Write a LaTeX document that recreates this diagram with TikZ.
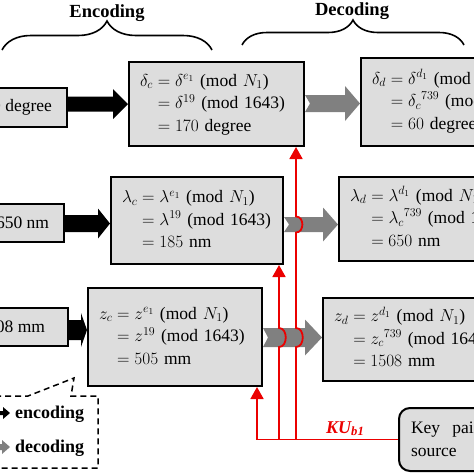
\documentclass[tikz,border=0pt]{standalone}
\usepackage{fontspec}
\setmainfont{Liberation Serif}
\usetikzlibrary{calc,arrows.meta,decorations.pathreplacing}
\definecolor{boxgray}{RGB}{221,221,221}
\definecolor{arrgray}{RGB}{128,128,128}
\definecolor{kured}{RGB}{235,0,0}
\newcommand\bodyfont{\fontsize{17.5}{22.5}\selectfont}
% #1 colour, #2 from node, #3 to node, #4 dy, #5 stem half, #6 head half, #7 head length, #8 notch
\newcommand\bigarr[8]{%
  \fill[#1] let \p1=($(#2.east)+(0,#4)$), \p2=(#3.west) in
    (\x1,\y1+#5) -- (\x2-#7,\y1+#5) -- (\x2-#7,\y1+#6) -- (\x2,\y1)
    -- (\x2-#7,\y1-#6) -- (\x2-#7,\y1-#5) -- (\x1,\y1-#5) -- (\x1+#8,\y1) -- cycle;}
\begin{document}
\begin{tikzpicture}[x=1pt,y=-1pt,
  box/.style={draw, line width=2pt, fill=boxgray, inner xsep=11pt, inner ysep=0pt, align=left, font=\bodyfont},
  leftbox/.style={draw, line width=2pt, fill=boxgray, anchor=east, inner ysep=0pt, font=\bodyfont},
  redline/.style={draw=kured, line width=1.8pt},
  redtip/.style={-{Triangle[length=12pt,width=13pt]}},
  heading/.style={font=\fontsize{18.5}{22}\selectfont\bfseries, inner sep=0pt, anchor=base},
  legendline/.style={dash pattern=on 6pt off 4pt, line width=1.5pt},
  legendtext/.style={font=\fontsize{18}{20}\selectfont\bfseries, anchor=base west, inner sep=0pt},
  brc/.style={decorate, decoration={brace, amplitude=#1}, line width=1.6pt}]

\useasboundingbox (0,0) rectangle (474,474);
\clip (0,0) rectangle (474,474);

% braces and headings
\draw[brc=29pt] (2,50) -- (212,50);
\draw[brc=25pt] (242,45) -- (464,45);
\node[heading] (enc) at (107,17) {Encoding};
\node[heading] (dec) at (352,15) {Decoding};

% row 1
\node[leftbox, inner xsep=15pt, minimum height=39pt] (L1) at (68,107.5) {60 degree};
\node[box, text width=153pt, minimum height=84pt] (dc) at (216.5,104) {%
  \begin{tabular}{@{}r@{}l@{}}
  $\delta_c$ & ${}=\delta^{e_1}$ (mod $N_1$)\\
   & ${}=\delta^{19}$ (mod 1643)\\
   & ${}=170$ degree
  \end{tabular}};
\node[box, text width=156pt, minimum height=88pt] (dd) at (450,102) {%
  \begin{tabular}{@{}r@{}l@{}}
  $\delta_d$ & ${}=\delta^{d_1}$ (mod $N_1$)\\
   & ${}={\delta_c}^{739}$ (mod 1643)\\
   & ${}=60$ degree
  \end{tabular}};

% row 2
\node[leftbox, inner xsep=15pt, minimum height=38pt] (L2) at (65,223) {650 nm};
\node[box, text width=150pt, minimum height=87pt] (lc) at (197,220.5) {%
  \begin{tabular}{@{}r@{}l@{}}
  $\lambda_c$ & ${}=\lambda^{e_1}$ (mod $N_1$)\\
   & ${}=\lambda^{19}$ (mod 1643)\\
   & ${}=185$ nm
  \end{tabular}};
\node[box, text width=156pt, minimum height=84pt] (ld) at (428,219) {%
  \begin{tabular}{@{}r@{}l@{}}
  $\lambda_d$ & ${}=\lambda^{d_1}$ (mod $N_1$)\\
   & ${}={\lambda_c}^{739}$ (mod 1643)\\
   & ${}=650$ nm
  \end{tabular}};

% row 3
\node[leftbox, inner xsep=23pt, minimum height=38pt] (L3) at (69,327) {1508 mm};
\node[box, text width=152pt, minimum height=98pt] (zc) at (175,337) {%
  \begin{tabular}{@{}r@{}l@{}}
  $z_c$ & ${}=z^{e_1}$ (mod $N_1$)\\
   & ${}=z^{19}$ (mod 1643)\\
   & ${}=505$ mm
  \end{tabular}};
\node[box, text width=156pt, minimum height=83pt] (zd) at (412,339.5) {%
  \begin{tabular}{@{}r@{}l@{}}
  $z_d$ & ${}=z^{d_1}$ (mod $N_1$)\\
   & ${}={z_c}^{739}$ (mod 1643)\\
   & ${}=1508$ mm
  \end{tabular}};

% key pair source
\node[box, rounded corners=11pt, inner xsep=12pt, text width=96pt, minimum height=63pt] (key) at (459,439.5) {Key\hspace{0.7em}pair\\source};

% big arrows
\bigarr{black}{L1}{dc}{-3.5}{7.5pt}{15pt}{15pt}{0pt}
\bigarr{arrgray}{dc}{dd}{-0.5}{8.5pt}{17.5pt}{15pt}{5pt}
\bigarr{black}{L2}{lc}{0.5}{8.5pt}{15pt}{12pt}{0pt}
\bigarr{arrgray}{lc}{ld}{4}{7.5pt}{17pt}{15pt}{5pt}
\bigarr{black}{L3}{zc}{3}{10pt}{17pt}{6pt}{0pt}
\bigarr{arrgray}{zc}{zd}{0.5}{9.5pt}{18pt}{17pt}{5pt}

% red key distribution lines
\coordinate (j1) at (257,439.5);
\coordinate (j2) at (279,439.5);
\coordinate (j3) at (296,439.5);
\draw[redline, redtip] (key.west) -- (j1) -- (j1 |- zc.south);
\draw[redline, redtip] (j2) -- (279,347) .. controls (288,347) and (288,328) .. (279,328) -- (j2 |- lc.south);
\draw[redline, redtip] (j3) -- (296,347) .. controls (305,347) and (305,328) .. (296,328)
  -- (296,232.5) .. controls (304.5,232.5) and (304.5,216.5) .. (296,216.5) -- (j3 |- dc.south);
\node[font=\fontsize{18}{20}\selectfont\bfseries\itshape, text=kured, anchor=base west, inner sep=0pt] (ku) at (326,433) {KU\textsubscript{b1}};

% legend
\draw[legendline] (-5,396) -- (28,396) -- (74,378) -- (71,396) -- (98,396) -- (98,468) -- (-5,468);
\fill[black] (-20,411) -- (3,411) -- (3,407) -- (10,413) -- (3,419) -- (3,415) -- (-20,415) -- cycle;
\fill[arrgray] (-20,444) -- (2,444) -- (2,440) -- (10,447) -- (2,454) -- (2,450) -- (-20,450) -- cycle;
\node[legendtext] (lenc) at (15,418) {encoding};
\node[legendtext] (ldec) at (15,452) {decoding};
\end{tikzpicture}
\end{document}
